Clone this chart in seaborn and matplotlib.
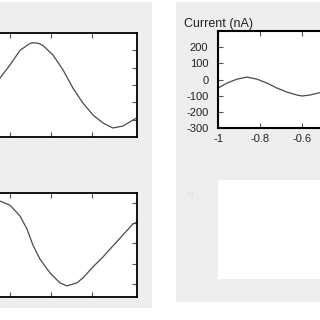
import matplotlib
matplotlib.use("Agg")
import matplotlib.pyplot as plt
import seaborn as sns
import pandas as pd
from matplotlib.patches import Rectangle

# ---- data ----
# top-left panel (voltage, current)
tl_x = [-0.87, -0.849, -0.8, -0.751, -0.702, -0.688, -0.66, -0.639, -0.590, -0.541,
        -0.493, -0.444, -0.395, -0.346, -0.298, -0.249, -0.2, -0.18]
tl_y = [20, 40, 115, 200, 240, 244, 240, 228, 173, 87,
        -17, -104, -173, -219, -248, -237, -202, -190]
tl_yticks = [200, 100, 0, -100, -200]
tl_xticks = [-0.8, -0.6, -0.4]

# bottom-left panel
bl_x = [-0.87, -0.849, -0.8, -0.751, -0.717, -0.688, -0.654, -0.605, -0.556, -0.522,
        -0.473, -0.444, -0.395, -0.346, -0.298, -0.249, -0.2, -0.18]
bl_y = [430, 420, 380, 272, 143, -15, -153, -291, -390, -420,
        -390, -341, -232, -133, -25, 84, 193, 212]
bl_yticks = [400, 200, 0, -200, -400]
bl_xticks = [-0.8, -0.6, -0.4]

# right panel
r_x = [-1.0, -0.957, -0.91, -0.862, -0.814, -0.767, -0.719, -0.671, -0.624, -0.6,
       -0.562, -0.524, -0.48]
r_y = [-53, -22, 2, 15, 2, -22, -53, -78, -96, -102, -96, -84, -70]
r_yticks = [200, 100, 0, -100, -200, -300]
r_ytick_labels = ["200", "100", "0", "-100", "-200", "-300"]
r_xticks = [-1.0, -0.8, -0.6]
r_xtick_labels = ["-1", "-0.8", "-0.6"]
r_title = "Current (nA)"

# ---- style ----
sns.set_style("white")
plt.rcParams["font.family"] = ["Liberation Sans", "DejaVu Sans"]
plt.rcParams["axes.unicode_minus"] = False

W = H = 320.0
fig = plt.figure(figsize=(3.2, 3.2), dpi=100, facecolor="white")

def fr(x0, y0, x1, y1):
    # pixel box (top-left origin) -> figure fraction [l, b, w, h]
    return [x0 / W, 1 - y1 / H, (x1 - x0) / W, (y1 - y0) / H]

grey = "#eeeeee"
for (x0, y0, x1, y1, c) in [(0, 2, 152, 308, grey), (176, 2, 320, 302, grey),
                            (218, 180, 330, 279, "white")]:
    l, b, w, h = fr(x0, y0, x1, y1)
    fig.patches.append(Rectangle((l, b), w, h, transform=fig.transFigure,
                                 facecolor=c, edgecolor="none", zorder=-10))

fig.text(186 / W, 1 - 194 / H, "b)", fontsize=6, color="#dcdcdc", va="center")

line_kw = dict(color="#4a4a4a", linewidth=0.9)
tick_kw = dict(direction="in", length=3.5, width=0.8, color="#555555")

def frame(ax, lw=1.3):
    for s in ax.spines.values():
        s.set_visible(True)
        s.set_color("black")
        s.set_linewidth(lw)
    ax.set_facecolor("white")
    ax.set_xlabel("")
    ax.set_ylabel("")
    ax.set_zorder(5)

# top-left
ax1 = fig.add_axes(fr(-72, 33, 137, 137))
sns.lineplot(x=tl_x, y=tl_y, ax=ax1, **line_kw)
ax1.set_xlim(-1.2, -0.18)
ax1.set_ylim(-300, 300)
ax1.set_xticks(tl_xticks)
ax1.set_yticks(tl_yticks)
ax1.tick_params(axis="both", which="both", top=True, bottom=True, left=False, right=True,
                labelleft=False, labelbottom=False, **tick_kw)
frame(ax1)

# bottom-left
ax2 = fig.add_axes(fr(-72, 193, 137, 297))
sns.lineplot(x=bl_x, y=bl_y, ax=ax2, **line_kw)
ax2.set_xlim(-1.2, -0.18)
ax2.set_ylim(-530, 500)
ax2.set_xticks(bl_xticks)
ax2.set_yticks(bl_yticks)
ax2.tick_params(axis="both", which="both", top=True, bottom=True, left=False, right=True,
                labelleft=False, labelbottom=False, **tick_kw)
frame(ax2)

# right
ax3 = fig.add_axes(fr(218, 31, 344, 128))
sns.lineplot(x=r_x, y=r_y, ax=ax3, **line_kw)
ax3.set_xlim(-1.0, -0.4)
ax3.set_ylim(-300, 300)
ax3.set_xticks(r_xticks)
ax3.set_xticklabels(r_xtick_labels)
ax3.set_yticks(r_yticks)
ax3.set_yticklabels(r_ytick_labels)
ax3.tick_params(axis="both", which="both", top=True, bottom=True, left=True, right=False,
                labelsize=8, labelcolor="#222222", **tick_kw)
ax3.tick_params(axis="y", pad=7)
ax3.tick_params(axis="x", pad=4)
frame(ax3, lw=1.5)
fig.text(184 / W, 1 - 24 / H, r_title, fontsize=9, color="#222222", va="center", ha="left")

fig.savefig("out.png", dpi=100, facecolor="white")
